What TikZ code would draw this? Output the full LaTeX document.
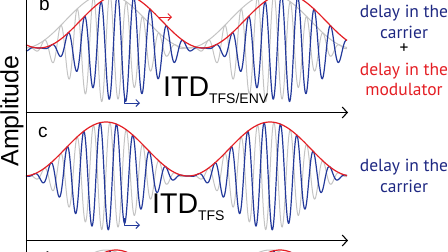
\documentclass[tikz,border=0pt]{standalone}
\usepackage{fontspec}
\setmainfont{Liberation Sans}
\newfontfamily\notefont{PT Sans}
\usetikzlibrary{arrows.meta}
\definecolor{carrierblue}{RGB}{36,58,155}
\definecolor{notenavy}{RGB}{30,40,130}
\definecolor{modred}{RGB}{228,30,36}
\definecolor{refgray}{RGB}{196,196,196}
\tikzset{
    axis/.style={draw, line width=1.1pt, -{Straight Barb[length=5pt,width=11pt]}}, % time axis of a panel
    refwave/.style={draw=refgray, line width=1pt},
    carwave/.style={draw=carrierblue, line width=1.2pt},
    envred/.style={draw=modred, line width=1.2pt},
    envgray/.style={draw=refgray, line width=1pt},
    delaymark/.style={line width=1pt, -{Straight Barb[length=3.5pt,width=7pt]}},
    panel/.style={font=\fontsize{19}{19}\selectfont, inner sep=0pt, anchor=base west},
    itd/.style={font=\fontsize{28.5}{28.5}\selectfont, inner sep=0pt, anchor=base west},
    note/.style={font=\notefont\fontsize{17.5}{20}\selectfont, inner sep=0pt, anchor=base}
}
\newcommand{\subtxt}[1]{\raisebox{-7pt}{\fontsize{14}{14}\selectfont #1}}

\begin{document}
\begin{tikzpicture}[x=1pt, y=-1pt, line join=round,
    declare function={env(\xx,\mm)=27*(1-cos((\xx-\mm)/164*360));
                      wave(\xx,\mm,\pp)=env(\xx,\mm)*cos((\xx-\pp)/16.4*360);}]
	\useasboundingbox (0,0) rectangle (448,252);
	\clip (0,0) rectangle (448,252);

	% panel b: whole waveform delayed
	\draw[refwave] plot[domain=26:347, samples=700] (\x, {48-wave(\x,24,93.5)});
	\draw[envgray] plot[domain=26:347, samples=200] (\x, {48-env(\x,24)});
	\draw[carwave] plot[domain=26:347, samples=700] (\x, {48-wave(\x,39,101)});
	\draw[envred] plot[domain=26:347, samples=200] (\x, {48-env(\x,39)});

	% panel c: carrier delayed only
	\draw[refwave] plot[domain=26:347, samples=700] (\x, {176-wave(\x,24,93.5)});
	\draw[carwave] plot[domain=26:347, samples=700] (\x, {176-wave(\x,24,100.1)});
	\draw[envred] plot[domain=26:347, samples=200] (\x, {176-env(\x,24)});

	% panel d (cut off)
	\draw[refwave] plot[domain=26:347, samples=700] (\x, {304-wave(\x,24,93.5)});
	\draw[envgray] plot[domain=26:347, samples=200] (\x, {304-env(\x,24)});
	\draw[carwave] plot[domain=26:347, samples=700] (\x, {304-wave(\x,34,93.5)});
	\draw[envred] plot[domain=26:347, samples=200] (\x, {304-env(\x,34)});

	\coordinate (ytop) at (26,0);
	\coordinate (ybot) at (26,252);
	\coordinate (ob) at (25.5,112.5);
	\coordinate (eb) at (348,112.5);
	\coordinate (oc) at (25.5,240.5);
	\coordinate (ec) at (348,240.5);
	\draw[line width=1pt] (ytop) -- (ybot);
	\draw[axis] (ob) -- (eb);
	\draw[axis] (oc) -- (ec);

	\coordinate (tfsb0) at (124,97);
	\coordinate (tfsb1) at (140,103);
	\coordinate (envb0) at (158,17);
	\coordinate (envb1) at (172,17);
	\coordinate (tfsc0) at (124,218);
	\coordinate (tfsc1) at (140,225);
	\draw[delaymark, carrierblue] (tfsb0) |- (tfsb1);
	\draw[delaymark, modred] (envb0) -- (envb1);
	\draw[delaymark, carrierblue] (tfsc0) |- (tfsc1);

	\node (amp) [rotate=90, anchor=base, inner sep=0pt, font=\fontsize{25}{25}\selectfont] at (18.5,111) {Amplitude};
	\node (lblb) [panel] at (39,10) {b};
	\node (lblc) [panel] at (38,137) {c};
	\node (lbld) [panel] at (39,265) {d};
	\node (itdb) [itd] at (163,96) {ITD\subtxt{TFS/ENV}};
	\node (itdc) [itd] at (152,213) {ITD\subtxt{TFS}};

	\node (carb1) [note, text=notenavy] at (404,17) {delay in the};
	\node (carb2) [note, text=notenavy] at (404,38) {carrier};
	\node (plus) [note, anchor=center] at (404,49) {+};
	\node (modb1) [note, text=modred] at (404,75) {delay in the};
	\node (modb2) [note, text=modred] at (404,95) {modulator};
	\node (carc1) [note, text=notenavy] at (404,171) {delay in the};
	\node (carc2) [note, text=notenavy] at (404,192) {carrier};
\end{tikzpicture}
\end{document}
